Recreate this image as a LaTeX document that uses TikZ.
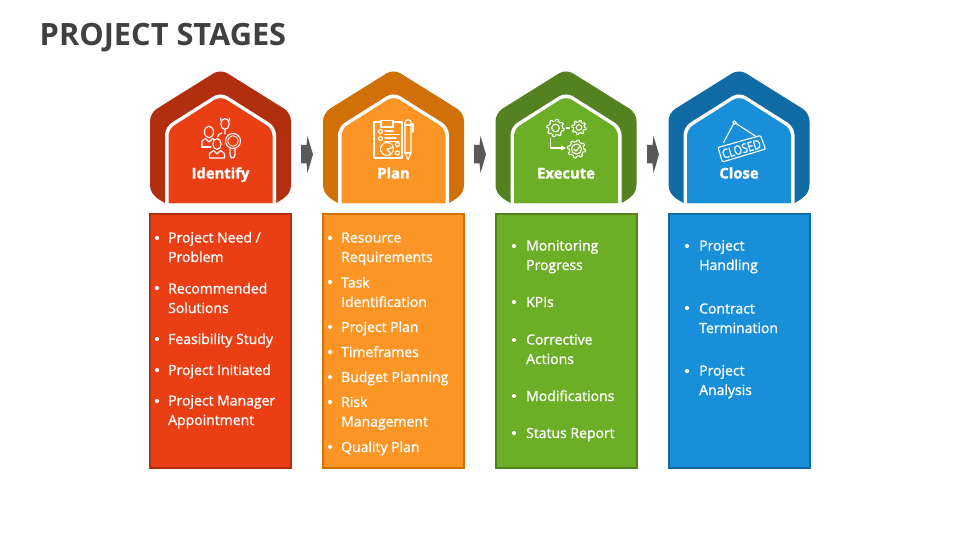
\documentclass[tikz,border=0pt]{standalone}
\usepackage{fontspec}
\setmainfont{Open Sans}
\newfontfamily\semi[FakeBold=1.2]{Open Sans}
\newfontfamily\heavy{Open Sans Bold}
\newfontfamily\heavier[FakeBold=1.5]{Open Sans Bold}
\definecolor{redF}{HTML}{EA3F14}\definecolor{redD}{HTML}{B12E0F}
\definecolor{oraF}{HTML}{FB9525}\definecolor{oraD}{HTML}{D07006}
\definecolor{greF}{HTML}{6CAE26}\definecolor{greD}{HTML}{548221}
\definecolor{bluF}{HTML}{198FD9}\definecolor{bluD}{HTML}{106BA4}
\definecolor{arrowgray}{HTML}{595959}
\definecolor{titlegray}{HTML}{404040}
\tikzset{
  itemtxt/.style={anchor=base west,align=left,inner sep=0pt,text=white,font=\semi\fontsize{14}{19.5}\selectfont},
  bulletdot/.style={circle,fill=white,inner sep=0pt,minimum size=4.2pt},
  stagelabel/.style={anchor=base,inner sep=0pt,text=white,font=\heavier\fontsize{14.8}{18}\selectfont},
  ico/.style={draw=white,line width=1.1pt,line cap=round,line join=round},
}
% #1 x-offset  #2 dark  #3 fill  #4 label  #5 name
\newcommand\stagehouse[5]{%
  \begin{scope}[xshift=#1]
    \fill[#2] (165,203) .. controls (156,198) and (150,194) .. (150,184)
      [rounded corners=8pt] -- (150,113) -- (220.5,69) -- (291,113)
      [sharp corners] -- (291,184) .. controls (291,194) and (285,198) .. (276,203) -- cycle;
    \fill[white] (165,203) [rounded corners=8pt] -- (165,127) -- (220.5,92) -- (276,127) [sharp corners] -- (276,203) -- cycle;
    \fill[#3] (168.5,203) [rounded corners=7pt] -- (168.5,129) -- (220.5,96) -- (272.5,129) [sharp corners] -- (272.5,203) -- cycle;
    \node[stagelabel] (#5label) at (220.5,178.5) {#4};
    \node[draw=#2,fill=#3,line width=2pt,minimum width=141pt,minimum height=254pt,inner sep=0pt,anchor=north west] (#5box) at (149.2,213) {};
  \end{scope}}
% #1 name #2 x-bullet #3 x-text #4 y of first line #5 baseline #6 text
\newcommand\bitem[6]{%
  \node[bulletdot] (#1b) at (#2,#4) {};
  \node[itemtxt] (#1) at (#3,#5) {#6};}
\newcommand\blockarrow[1]{%
  \fill[arrowgray] (#1,145) -- (#1+5.5,145) -- (#1+6.5,136) -- (#1+12,154.5) -- (#1+6.5,173) -- (#1+5.5,163.5) -- (#1,163.5) -- cycle;}
\newcommand\gear[3]{%
  \draw[ico,line width=1pt] plot[samples=97,domain=0:360] ({#1+(#3+(sin(8*\x)>0?1.7:0))*cos(\x)},{#2+(#3+(sin(8*\x)>0?1.7:0))*sin(\x)}) -- cycle;}
\begin{document}
\begin{tikzpicture}[x=1pt,y=-1pt]
\useasboundingbox (0,0) rectangle (960,540);
\node[anchor=base west,inner sep=0pt,text=titlegray,font=\heavy\fontsize{30.75}{32}\selectfont] (title) at (39.5,45.5) {PROJECT STAGES};

\stagehouse{0pt}{redD}{redF}{Identify}{identify}
\stagehouse{173pt}{oraD}{oraF}{Plan}{plan}
\stagehouse{345.5pt}{greD}{greF}{Execute}{execute}
\stagehouse{518.5pt}{bluD}{bluF}{Close}{close}

\blockarrow{301}
\blockarrow{474}
\blockarrow{647}

% Identify items
\bitem{i1}{157}{168}{238}{262}{Project Need /\\Problem}
\bitem{i2}{157}{168}{288}{313}{Recommended\\Solutions}
\bitem{i3}{157}{168}{339}{344}{Feasibility Study}
\bitem{i4}{157}{168}{370}{375}{Project Initiated}
\bitem{i5}{157}{168}{401}{425}{Project Manager\\Appointment}
% Plan items
\bitem{p1}{330}{341}{238}{262}{Resource\\Requirements}
\bitem{p2}{330}{341}{282}{307}{Task\\Identification}
\bitem{p3}{330}{341}{327}{332}{Project Plan}
\bitem{p4}{330}{341}{352}{357}{Timeframes}
\bitem{p5}{330}{341}{377}{382}{Budget Planning}
\bitem{p6}{330}{341}{402}{426.5}{Risk\\Management}
\bitem{p7}{330}{341}{447}{452}{Quality Plan}
% Execute items
\bitem{e1}{514}{526}{246}{270}{Monitoring\\Progress}
\bitem{e2}{514}{526}{302}{307}{KPIs}
\bitem{e3}{514}{526}{340}{364}{Corrective\\Actions}
\bitem{e4}{514}{526}{396}{401}{Modifications}
\bitem{e5}{514}{526}{433}{438}{Status Report}
% Close items
\bitem{c1}{687}{699}{246}{270}{Project\\Handling}
\bitem{c2}{687}{699}{308}{333}{Contract\\Termination}
\bitem{c3}{687}{699}{371}{395}{Project\\Analysis}

% Identify icon
\begin{scope}
  \draw[ico] (209,132) ellipse (4.5 and 5.8);
  \draw[ico] (202,147) -- (202,141) -- (205.5,138.5) -- (209,142) -- (212.5,138.5) -- (214,139.5);
  \draw[ico] (202,147) -- (211,147);
  \draw[ico] (225,124) ellipse (4.2 and 5.4);
  \draw[ico] (220.5,118) -- (221,121) (229.5,118) -- (229,121);
  \draw[ico] (225,130) -- (225,134) (217.5,137) .. controls (218,134) and (220,134) .. (222,133);
  \draw[ico] (233,141) circle (7.5);
  \draw[ico,line width=.8pt] (233,141) circle (5.3);
  \draw[ico] (217,144) ellipse (4.2 and 5.4);
  \draw[ico] (209.5,158) -- (209.5,153.5) -- (213.5,150.5) -- (217,154) -- (220.5,150.5) -- (224.5,153.5) -- (224.5,158) -- cycle;
  \draw[ico,rounded corners=2pt] (230,149) -- (230,157) -- (232.5,158.5) -- (235,157) -- (235,149);
\end{scope}
% Plan icon
\begin{scope}
  \draw[ico] (380,122) -- (374,122) -- (374,158) -- (402,158) -- (402,122) -- (394,122);
  \draw[ico] (381,120.5) rectangle (393,127);
  \draw[ico] (380.5,131.5) circle (2);
  \draw[ico] (380.5,138.5) circle (2);
  \draw[ico,line width=1.2pt] (385,131) -- (393,131) (385,134.5) -- (399,134.5) (385,138) -- (396,138) (385,141.5) -- (399,141.5);
  \draw[ico] (397.5,144.5) circle (2);
  \draw[ico] (397.5,153) circle (2);
  \draw[ico] (387,149) circle (6.5);
  \draw[ico] (387,149) -- (393.5,147.5) (387,149) -- (391,154);
  \draw[ico] (405,122) .. controls (405,119) and (411,119) .. (411,122) -- (411,153) -- (408,159.5) -- (405,153) -- cycle;
  \draw[ico] (405,125) -- (411,125) (405,153) -- (411,153) (411,124) -- (413,124) -- (413,132);
\end{scope}
% Execute icon
\begin{scope}
  \gear{555.5}{128}{7}
  \draw[ico] (555.5,128) circle (3.8);
  \gear{579}{127.5}{5.5}
  \draw[ico] (579,127.5) circle (2.8);
  \draw[ico,line width=1.6pt,line cap=butt] (565.5,128) -- (570,128);
  \gear{576.5}{149}{7.3}
  \draw[ico] (576.5,149) circle (5);
  \draw[ico] (574,149) -- (576,151.2) -- (579.5,147);
  \draw[ico] (550.5,138.5) -- (550.5,148) -- (561,148);
  \fill[white] (566,148) -- (561,145.3) -- (561,150.7) -- cycle;
\end{scope}
% Close icon
\begin{scope}
  \draw[ico] (734.5,122.5) circle (1.7);
  \draw[ico] (733.5,124) -- (723.5,142.5) (736,123.5) -- (756,136.5);
  \draw[ico,rounded corners=1pt] (718,147.5) -- (760.5,135.5) -- (765.5,149) -- (722.5,162) -- cycle;
  \node[rotate=16,inner sep=0pt,text=white,font=\semi\fontsize{13}{14}\selectfont] (closedsign) at (741.5,149) {\scalebox{.82}[1]{CLOSED}};
\end{scope}
\end{tikzpicture}
\end{document}
